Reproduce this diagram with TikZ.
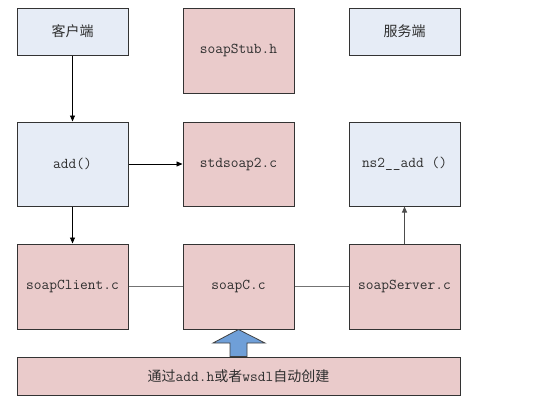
\documentclass[tikz,border=0pt]{standalone}
\usepackage{fontspec}
\newfontfamily\cjk{Noto Sans CJK SC}
\setmonofont{Latin Modern Mono}
\usetikzlibrary{arrows.meta}
\definecolor{bluefill}{HTML}{E6ECF6}
\definecolor{pinkfill}{HTML}{EACBCB}
\definecolor{txt}{HTML}{2E2E2E}
\definecolor{arrowblue}{HTML}{6F9FD8}
\tikzset{
  box/.style={draw=black!80, line width=1pt, minimum width=111pt, inner sep=0pt, text=txt, font=\ttfamily\fontsize{15}{16}\selectfont},
  bluebox/.style={box, fill=bluefill},
  pinkbox/.style={box, fill=pinkfill},
  arr/.style={-{Triangle[length=6pt,width=5pt]}, line width=0.9pt},
  link/.style={draw=black!55, line width=1.4pt}
}
\begin{document}
\begin{tikzpicture}[x=1pt,y=-1pt]
\useasboundingbox (0,0) rectangle (534,415);
\node[bluebox, minimum height=47pt] (client) at (72.5,31.5) {\cjk\fontsize{14}{15}\selectfont 客户端};
\node[pinkbox, minimum height=85pt] (stub) at (238.5,50.5) {soapStub.h};
\node[bluebox, minimum height=47pt] (server) at (404.5,31.5) {\cjk\fontsize{14}{15}\selectfont 服务端};
\node[bluebox, minimum height=84pt] (add) at (72.5,164) {add()};
\node[pinkbox, minimum height=84pt] (std) at (238.5,164) {stdsoap2.c};
\node[bluebox, minimum height=84pt] (ns2) at (404.5,164) {ns2\_\_add ()};
\node[pinkbox, minimum height=85pt] (sclient) at (72.5,286.5) {soapClient.c};
\node[pinkbox, minimum height=85pt] (soapc) at (238.5,286.5) {soapC.c};
\node[pinkbox, minimum height=85pt] (sserver) at (404.5,286.5) {soapServer.c};
\node[pinkbox, minimum width=443pt, minimum height=38pt] (gen) at (238.5,376) {{\cjk\fontsize{14}{15}\selectfont 通过}add.h{\cjk\fontsize{14}{15}\selectfont 或者}wsdl{\cjk\fontsize{14}{15}\selectfont 自动创建}};
\draw[arr] (client) -- (add);
\draw[arr] (add) -- (std);
\draw[arr] (add) -- (sclient);
\draw[arr, draw=black!70] (sserver) -- (ns2);
\draw[link] (sclient) -- (soapc);
\draw[link] (soapc) -- (sserver);
\draw[fill=arrowblue, draw=black!75, line width=0.8pt]
  (gen.north -| 230,0) -- (230,343) -- (213,343) -- (soapc.south) -- (265,343) -- (247,343) -- (gen.north -| 247,0) -- cycle;
\end{tikzpicture}
\end{document}
